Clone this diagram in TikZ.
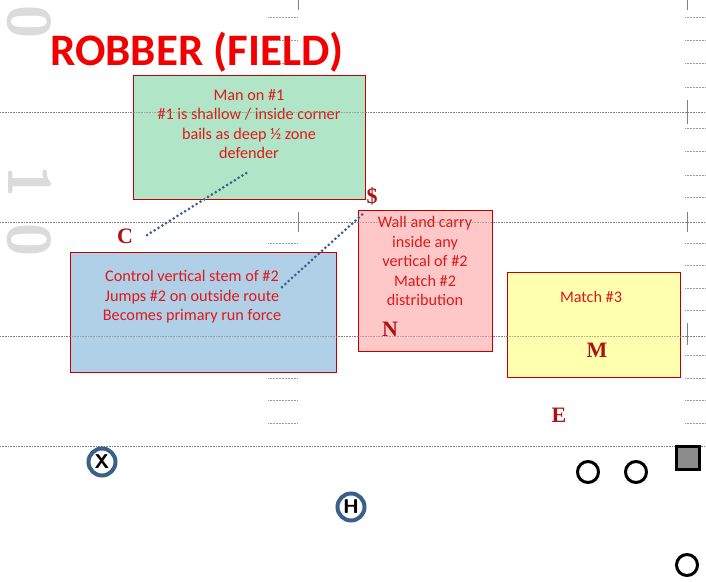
\documentclass[tikz,border=0pt]{standalone}
\usepackage{fontspec}
\setmainfont{Carlito}
\newfontfamily\serifx{Liberation Serif}
\definecolor{steel}{HTML}{3A5F8A}
\definecolor{gfill}{HTML}{B1E5C8}
\definecolor{bfill}{HTML}{B0D0E8}
\definecolor{pfill}{HTML}{FFC8C8}
\definecolor{yfill}{HTML}{FFFFB0}
\definecolor{txtred}{HTML}{E01818}
\definecolor{letred}{HTML}{B01010}
\begin{document}
\begin{tikzpicture}[x=1pt,y=-1pt,
  yard/.style={gray,densely dotted,line width=0.6pt},
  hashm/.style={gray!80,densely dotted,line width=0.5pt},
  tick/.style={gray,line width=0.6pt},
  numb/.style={text=gray!28,font=\sffamily\bfseries\fontsize{60}{60}\selectfont,rotate=-90,inner sep=0},
  boxt/.style={draw=red!75!black,line width=0.6pt,anchor=north west,inner sep=0},
  btxt/.style={text=txtred,font=\fontsize{16.2}{19.5}\selectfont,align=center},
  letr/.style={text=letred,font=\serifx\bfseries\fontsize{22}{22}\selectfont},
  conn/.style={draw=steel,line width=3pt,dash pattern=on 0pt off 4.5pt,line cap=round},
  blueplayer/.style={circle,draw=steel,line width=4pt,minimum size=27pt,inner sep=0,font=\sffamily\bfseries\fontsize{20}{20}\selectfont},
  oplayer/.style={circle,draw=black,line width=3pt,minimum size=21pt,inner sep=0}]
\useasboundingbox (0,0) rectangle (706,581);
% yard lines
\foreach \y in {112,222,336,446} \draw[yard] (0,\y) -- (706,\y);
% hash marks
\foreach \y in {17,40,63,87,128,151,175,197,243,265,288,310,355,378,400,423}{
  \draw[hashm] (268,\y) -- (298,\y);
  \draw[hashm] (685,\y) -- (706,\y);}
\foreach \a/\b in {0/10,100/124,212/232,323/345}{
  \draw[tick] (298,\a) -- (298,\b);
  \draw[tick] (687,\a) -- (687,\b);}
% numbers
\node[numb] (n0) at (29,22) {0};
\node[numb] (n1) at (30,182) {1};
\node[numb] (n2) at (29,240) {0};
% title
\node[text=red!95!black,font=\bfseries\fontsize{45}{45}\selectfont,anchor=west,inner sep=0] (title) at (50,52) {ROBBER (FIELD)};
% boxes
\node[boxt,fill=gfill,minimum width=232pt,minimum height=124pt] (g) at (133,75) {};
\node[btxt,anchor=north] (gt) at (249,86) {Man on \#1\\\#1 is shallow / inside corner\\bails as deep ½ zone\\defender};
\node[boxt,fill=bfill,minimum width=266pt,minimum height=120pt] (b) at (70,252) {};
\node[btxt,anchor=north] (bt) at (192,267) {Control vertical stem of \#2\\Jumps \#2 on outside route\\Becomes primary run force};
\node[boxt,fill=pfill,minimum width=134pt,minimum height=141pt] (p) at (358,210) {};
\node[btxt,anchor=north] (pt) at (425,213) {Wall and carry\\inside any\\vertical of \#2\\Match \#2\\distribution};
\node[boxt,fill=yfill,minimum width=173pt,minimum height=105pt] (y) at (507,272) {};
\node[btxt] (yt) at (591,297) {Match \#3};
\foreach \y in {112,222,336} \draw[yard,opacity=0.6] (0,\y) -- (706,\y);
% letters
\node[letr] (C) at (125,236) {C};
\node[letr] (S) at (372,196) {\$};
\node[letr] (N) at (390,329) {N};
\node[letr] (M) at (597,350) {M};
\node[letr] (E) at (559,415) {E};
% connectors
\coordinate (c1) at (147,235); \coordinate (c2) at (248,172);
\coordinate (d1) at (282,287); \coordinate (d2) at (365,212);
\draw[conn] (c1) -- (c2);
\draw[conn] (d1) -- (d2);
% players
\node[blueplayer] (X) at (102,462) {X};
\node[blueplayer] (H) at (351,507) {H};
\node[oplayer] (o1) at (588,472) {};
\node[oplayer] (o2) at (636,472) {};
\node[oplayer] (o3) at (687,565) {};
\node[draw=black,fill=gray!90,line width=3.5pt,minimum size=23pt,inner sep=0] (ctr) at (688,458) {};
\end{tikzpicture}
\end{document}
